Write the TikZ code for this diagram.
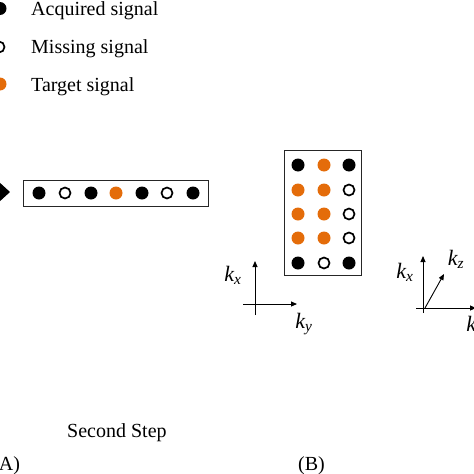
\documentclass[tikz,border=0pt]{standalone}
\usepackage{fontspec}
\setmainfont{Liberation Serif}
\usetikzlibrary{arrows.meta}
\definecolor{tgt}{RGB}{228,108,10}
\begin{document}
\begin{tikzpicture}[x=1pt,y=-1pt,
  acq/.style={circle,fill=black,inner sep=0pt,minimum size=13pt},
  mis/.style={circle,draw=black,fill=white,line width=1.7pt,inner sep=0pt,minimum size=11pt},
  tar/.style={circle,fill=tgt,inner sep=0pt,minimum size=13pt},
  lbl/.style={font=\fontsize{20}{22}\selectfont,anchor=base west,inner sep=0pt},
  frame/.style={draw=black!85,line width=0.9pt},
  ax/.style={line width=0.9pt,-{Triangle[length=6pt,width=5pt]}},
  klab/.style={font=\fontsize{22}{24}\selectfont\itshape,inner sep=0pt}]
\useasboundingbox (0,0) rectangle (474,474);
% legend
\node[acq] (la) at (0,8.5) {};
\node[lbl] (ta) at (31,15.5) {Acquired signal};
\node[mis] (lm) at (-1,47) {};
\node[lbl] (tm) at (31,53.5) {Missing signal};
\node[tar] (lt) at (0,84) {};
\node[lbl] (tt) at (31,91.5) {Target signal};
% 1D row
\draw[frame] (23,180) rectangle (208,206);
\coordinate (ain) at (-20,192);
\coordinate (aend) at (10,192);
\draw[line width=1pt,-{Triangle[length=10pt,width=18pt]}] (ain) -- (aend);
\node[acq] (r1) at (39,193) {};
\node[mis] (r2) at (65,193) {};
\node[acq] (r3) at (91,193) {};
\node[tar] (r4) at (116,193) {};
\node[acq] (r5) at (142,193) {};
\node[mis] (r6) at (167,193) {};
\node[acq] (r7) at (193,193) {};
% grid
\draw[frame] (284,150) rectangle (361,275);
\node[acq] (g11) at (298,165) {};
\node[tar] (g12) at (324,165) {};
\node[acq] (g13) at (349,165) {};
\node[tar] (g21) at (298,190) {};
\node[tar] (g22) at (324,190) {};
\node[mis] (g23) at (349,190) {};
\node[tar] (g31) at (298,214) {};
\node[tar] (g32) at (324,214) {};
\node[mis] (g33) at (349,214) {};
\node[tar] (g41) at (298,238) {};
\node[tar] (g42) at (324,238) {};
\node[mis] (g43) at (349,238) {};
\node[acq] (g51) at (298,263) {};
\node[mis] (g52) at (324,263) {};
\node[acq] (g53) at (349,263) {};
% axes B left
\coordinate (bo1) at (255,315);
\coordinate (bx1) at (255,261);
\coordinate (bh0) at (243,304);
\coordinate (by1) at (297,304);
\draw[ax] (bo1) -- (bx1);
\draw[ax] (bh0) -- (by1);
\node[klab] (kx1) at (233,275) {k\textsubscript{x}};
\node[klab] (ky1) at (304,324) {k\textsubscript{y}};
% axes B right
\coordinate (bo2) at (423,313);
\coordinate (bx2) at (423,256);
\coordinate (bh2) at (416,308);
\coordinate (by2) at (476,308);
\coordinate (bd0) at (425,308);
\coordinate (bz2) at (444,274);
\draw[ax] (bo2) -- (bx2);
\draw[ax] (bh2) -- (by2);
\draw[ax] (bd0) -- (bz2);
\node[klab] (kx2) at (405,272) {k\textsubscript{x}};
\node[klab] (kz2) at (456,259) {k\textsubscript{z}};
\node[klab] (ky2) at (475,327) {k\textsubscript{y}};
% captions
\node[lbl] (ss) at (67,437) {Second Step};
\node[lbl] (ca) at (-8,470) {(A)};
\node[lbl] (cb) at (298,470) {(B)};
\end{tikzpicture}
\end{document}
